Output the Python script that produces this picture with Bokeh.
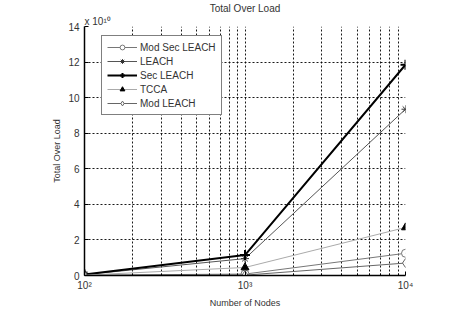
from bokeh.plotting import figure
from bokeh.models import FixedTicker, Range1d, Legend, LegendItem, Title
from bokeh.embed import file_html
from bokeh.resources import INLINE

nodes = [100, 1000, 10000]
mod_sec_leach = [0.02, 0.08, 1.25]
leach = [0.05, 0.95, 9.35]
sec_leach = [0.05, 1.15, 11.85]
tcca = [0.02, 0.45, 2.7]
mod_leach = [0.0, 0.02, 0.7]
y_ticks = [0, 2, 4, 6, 8, 10, 12, 14]
x_ticks = [100, 1000, 10000]
x_tick_labels = {100: "10²", 1000: "10³", 10000: "10⁴"}

FONT = "Liberation Sans"
TXT = "#333333"

p = figure(width=474, height=312, x_axis_type="log", output_backend="svg",
           toolbar_location=None, x_range=Range1d(100, 10000), y_range=Range1d(0, 14),
           min_border_left=84, min_border_right=69, min_border_top=24, min_border_bottom=37,
           title=None)
p.outline_line_color = None
p.background_fill_color = "white"
p.border_fill_color = "white"

t_main = Title(text="Total Over Load", align="center", text_font=FONT, text_font_size="10px",
               text_font_style="normal", text_color=TXT, standoff=0, offset=0)
t_exp = Title(text="x 10¹⁰", align="left", text_font=FONT, text_font_size="10px",
              text_font_style="normal", text_color=TXT, standoff=0, offset=0)
p.add_layout(t_exp, "above")
p.add_layout(t_main, "above")

p.xaxis.ticker = FixedTicker(ticks=x_ticks, minor_ticks=[200, 300, 400, 500, 600, 700, 800, 900,
                                                         2000, 3000, 4000, 5000, 6000, 7000, 8000, 9000])
p.xaxis.major_label_overrides = x_tick_labels
p.yaxis.ticker = FixedTicker(ticks=y_ticks)
for ax in (p.xaxis, p.yaxis):
    ax.axis_line_color = "black"
    ax.axis_line_width = 1.5
    ax.major_tick_in = 4
    ax.major_tick_out = 0
    ax.minor_tick_in = 2
    ax.minor_tick_out = 0
    ax.major_tick_line_color = "black"
    ax.minor_tick_line_color = "black"
    ax.major_label_text_font = FONT
    ax.major_label_text_font_size = "10px"
    ax.major_label_text_color = TXT
    ax.axis_label_text_font = FONT
    ax.axis_label_text_font_size = "9px"
    ax.axis_label_text_font_style = "normal"
    ax.axis_label_text_color = TXT
p.xaxis.axis_label = "Number of Nodes"
p.yaxis.axis_label = "Total Over Load"
p.xaxis.major_label_standoff = 4
p.xaxis.axis_label_standoff = 4
p.yaxis.axis_label_standoff = 3

for g in (p.xgrid, p.ygrid):
    g.grid_line_color = "black"
    g.grid_line_dash = "2 2"
    g.grid_line_width = 1
    g.grid_line_alpha = 0.9
p.xgrid.minor_grid_line_color = "black"
p.xgrid.minor_grid_line_dash = "2 2"
p.xgrid.minor_grid_line_alpha = 0.9
p.ygrid.minor_grid_line_color = None

items = []
r1 = p.line(nodes, mod_sec_leach, line_color="#777777", line_width=1)
m1 = p.scatter(nodes, mod_sec_leach, marker="circle", size=8, line_color="#777777",
               fill_color="white", line_width=1)
items.append(LegendItem(label="Mod Sec LEACH", renderers=[r1, m1]))
r2 = p.line(nodes, leach, line_color="#555555", line_width=1)
m2 = p.scatter(nodes, leach, marker="asterisk", size=8, line_color="#333333", line_width=1)
items.append(LegendItem(label="LEACH", renderers=[r2, m2]))
r3 = p.line(nodes, sec_leach, line_color="black", line_width=2)
m3 = p.scatter(nodes, sec_leach, marker="cross", size=10, line_color="black", line_width=2)
items.append(LegendItem(label="Sec LEACH", renderers=[r3, m3]))
r4 = p.line(nodes, tcca, line_color="#aaaaaa", line_width=1)
m4 = p.scatter(nodes, tcca, marker="triangle", size=8, line_color="black", fill_color="black")
items.append(LegendItem(label="TCCA", renderers=[r4, m4]))
r5 = p.line(nodes, mod_leach, line_color="#666666", line_width=1)
m5 = p.scatter(nodes, mod_leach, marker="diamond", size=9, line_color="#666666",
               fill_color="white", line_width=1)
items.append(LegendItem(label="Mod LEACH", renderers=[r5, m5]))

legend = Legend(items=items, location=(17, 160))
legend.border_line_color = "black"
legend.border_line_width = 1
legend.background_fill_color = "white"
legend.background_fill_alpha = 1
legend.label_text_font = FONT
legend.label_text_font_size = "10px"
legend.label_text_color = TXT
legend.glyph_width = 30
legend.glyph_height = 12
legend.label_height = 12
legend.spacing = 2
legend.padding = 5
legend.margin = 0
legend.label_standoff = 3
p.add_layout(legend, "center")

open("out.html", "w").write(file_html(p, INLINE))
